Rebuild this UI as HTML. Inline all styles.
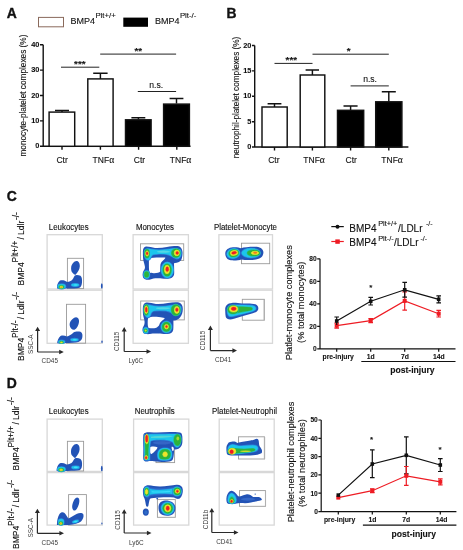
<!DOCTYPE html>
<html><head><meta charset="utf-8">
<style>
html,body{margin:0;padding:0;background:#fff;}
svg{display:block;will-change:transform;filter:blur(0.3px);}
text{font-family:"Liberation Sans",sans-serif;fill:#111;stroke:#111;stroke-width:0.12px;}
.b{stroke-width:0.1px;}
.b{font-weight:bold;}
.db{fill:#2453b6}
.cy{fill:#1ec6ec;stroke:#2a80da;stroke-width:1.3;paint-order:stroke}
.lc{fill:#3fe0ff}
.gr{fill:#2db33a;stroke:#22c0a0;stroke-width:1.1;paint-order:stroke}
.ye{fill:#eee42a;stroke:#a8d43a;stroke-width:1;paint-order:stroke}
.rd{fill:#ee1c22;stroke:#f47a20;stroke-width:0.9;paint-order:stroke}
.or{fill:#f07a1e}
.ax text{fill:#3a3a3a;stroke:none;}
.gate{fill:none;stroke:#9a9a9a;stroke-width:0.9}

</style></head>
<body>
<svg width="463" height="550" viewBox="0 0 463 550">
<defs>
<filter id="sf" x="-20%" y="-20%" width="140%" height="140%"><feGaussianBlur stdDeviation="0.45"/></filter>

<clipPath id="cL1"><rect x="47.8" y="235.4" width="53.8" height="53"/></clipPath>
<clipPath id="cL2"><rect x="47.8" y="290.9" width="53.8" height="51.7"/></clipPath>
</defs>

<!-- ================= PANEL A ================= -->
<text x="6.7" y="17.9" class="b" font-size="13.9" style="stroke-width:0.35px">A</text>
<rect x="38.5" y="17.4" width="25" height="9.4" fill="#fff" stroke="#8a6a5c" stroke-width="1"/>
<text x="70.6" y="24.1" font-size="9">BMP4<tspan font-size="7.8" dy="-5.7" dx="0.3">Plt+/+</tspan></text>
<rect x="123.3" y="17.6" width="24.7" height="9.2" fill="#000"/>
<text x="155.1" y="24.1" font-size="9">BMP4<tspan font-size="7.8" dy="-5.7" dx="0.3">Plt-/-</tspan></text>

<!-- axes A -->
<g stroke="#111" stroke-width="1.4" fill="none">
<path d="M43.2,44.7 V146.3 M40,44.7 H43.2 M40,70.1 H43.2 M40,95.5 H43.2 M40,120.9 H43.2 M40,146.3 H190.5"/>
<path d="M62,146.3 V149.8 M100.4,146.3 V149.8 M138.6,146.3 V149.8 M176.8,146.3 V149.8"/>
</g>
<g class="b" font-size="8" text-anchor="end">
<text x="39.4" y="46.7" class="b" textLength="8.23" lengthAdjust="spacingAndGlyphs">40</text>
<text x="39.4" y="72.1" class="b" textLength="8.23" lengthAdjust="spacingAndGlyphs">30</text>
<text x="39.4" y="97.5" class="b" textLength="8.23" lengthAdjust="spacingAndGlyphs">20</text>
<text x="39.4" y="122.9" class="b" textLength="8.23" lengthAdjust="spacingAndGlyphs">10</text>
<text x="39.4" y="148.3" class="b" textLength="4.11" lengthAdjust="spacingAndGlyphs">0</text>
</g>
<text transform="translate(26.2,95.6) rotate(-90)" text-anchor="middle" font-size="8.25">monocyte-platelet complexes (%)</text>
<!-- bars A -->
<g stroke="#111" stroke-width="1.45">
<path d="M62,112.1 V110.5 M55,110.5 H69" fill="none"/>
<rect x="49.1" y="112.1" width="25.6" height="34.2" fill="#fff"/>
<path d="M100.4,78.9 V73.2 M93.2,73.2 H107.6" fill="none"/>
<rect x="87.8" y="78.9" width="25.3" height="67.4" fill="#fff"/>
<path d="M138.4,119.3 V117.7 M131.4,117.7 H145.3" fill="none"/>
<rect x="125.5" y="119.8" width="25.6" height="26.5" fill="#000"/>
<path d="M176.5,103.6 V98.4 M169.6,98.4 H183.4" fill="none"/>
<rect x="163.6" y="104.1" width="25.8" height="42.2" fill="#000"/>
</g>
<g stroke="#222" stroke-width="1">
<path d="M61,67.2 H99.3 M100.2,54.1 H176.1 M137.8,91.5 H176.1"/>
</g>
<text x="79.8" y="67.2" text-anchor="middle" font-size="9.8" class="b">***</text>
<text x="138.2" y="54" text-anchor="middle" font-size="9.8" class="b">**</text>
<text x="156.2" y="87.7" text-anchor="middle" font-size="8.6">n.s.</text>
<g font-size="8.5">
<text x="56.4" y="162.5">Ctr</text>
<text x="92.6" y="162.5">TNF<tspan font-family="Liberation Serif" font-size="9.6">α</tspan></text>
<text x="133.8" y="162.5">Ctr</text>
<text x="169.8" y="162.5">TNF<tspan font-family="Liberation Serif" font-size="9.6">α</tspan></text>
</g>

<!-- ================= PANEL B ================= -->
<text x="226.4" y="17.9" class="b" font-size="13.9" style="stroke-width:0.35px">B</text>
<g stroke="#111" stroke-width="1.4" fill="none">
<path d="M254.7,45.5 V147 M252,45.5 H254.7 M252,70.9 H254.7 M252,96.3 H254.7 M252,121.7 H254.7 M252,147 H408.4"/>
<path d="M274.5,147 V150.5 M312.4,147 V150.5 M350.6,147 V150.5 M388.8,147 V150.5"/>
</g>
<g font-size="8" text-anchor="end">
<text x="251.4" y="47.5" class="b" textLength="8.23" lengthAdjust="spacingAndGlyphs">20</text>
<text x="251.4" y="72.9" class="b" textLength="8.23" lengthAdjust="spacingAndGlyphs">15</text>
<text x="251.4" y="98.3" class="b" textLength="8.23" lengthAdjust="spacingAndGlyphs">10</text>
<text x="251.4" y="123.7" class="b" textLength="4.11" lengthAdjust="spacingAndGlyphs">5</text>
<text x="251.4" y="149.0" class="b" textLength="4.11" lengthAdjust="spacingAndGlyphs">0</text>
</g>
<text transform="translate(239.2,97.5) rotate(-90)" text-anchor="middle" font-size="8.2">neutrophil-platelet complexes (%)</text>
<g stroke="#111" stroke-width="1.45">
<path d="M274.5,107 V103.8 M267.6,103.8 H281.4" fill="none"/>
<rect x="262" y="107" width="25.2" height="40" fill="#fff"/>
<path d="M312.4,75 V70 M305.6,70 H319" fill="none"/>
<rect x="300.2" y="75" width="24.6" height="72" fill="#fff"/>
<path d="M350.6,110.3 V106 M343.5,106 H357.6" fill="none"/>
<rect x="337.5" y="110.3" width="26.2" height="36.7" fill="#000"/>
<path d="M388.8,101.8 V91.7 M381.8,91.7 H395.8" fill="none"/>
<rect x="375.7" y="101.8" width="26.2" height="45.2" fill="#000"/>
</g>
<g stroke="#222" stroke-width="1">
<path d="M274.5,63.4 H312.5 M312.5,54.2 H388.8 M350.6,85.9 H388.8"/>
</g>
<text x="291.3" y="63.2" text-anchor="middle" font-size="9.8" class="b">***</text>
<text x="348.6" y="54.2" text-anchor="middle" font-size="9.8" class="b">*</text>
<text x="370.1" y="82" text-anchor="middle" font-size="8.6">n.s.</text>
<g font-size="8.5">
<text x="268.2" y="162.5">Ctr</text>
<text x="303.3" y="162.5">TNF<tspan font-family="Liberation Serif" font-size="9.6">α</tspan></text>
<text x="345.6" y="162.5">Ctr</text>
<text x="381.3" y="162.5">TNF<tspan font-family="Liberation Serif" font-size="9.6">α</tspan></text>
</g>


<!-- ================= PANEL C ================= -->
<text x="6.7" y="200.8" class="b" font-size="13.9" style="stroke-width:0.35px">C</text>
<g transform="rotate(-90)" font-size="8.5">
<text x="-285.4" y="23.7">BMP4</text><text x="-262.4" y="18.2" font-size="8.3">Plt+/+</text><text x="-239.4" y="23.6">/</text><text x="-234.9" y="23.6">Ldlr</text><text x="-220" y="19" font-size="8.3">-/-</text>
<text x="-361" y="23.7">BMP4</text><text x="-338" y="18.2" font-size="8.3">Plt-/-</text><text x="-319.2" y="23.6">/</text><text x="-314.7" y="23.6">Ldlr</text><text x="-299.8" y="19" font-size="8.3">-/-</text>
</g>
<g font-size="7.9">
<text x="48.8" y="230.3" font-size="8.45" textLength="39.9" lengthAdjust="spacingAndGlyphs">Leukocytes</text>
<text x="135.9" y="230.3" font-size="8.45" textLength="38.1" lengthAdjust="spacingAndGlyphs">Monocytes</text>
<text x="213.9" y="230.3" font-size="8.45" textLength="63.1" lengthAdjust="spacingAndGlyphs">Platelet-Monocyte</text>
</g>
<g fill="none" stroke="#d8d8d8" stroke-width="1.3">
<rect x="47.1" y="234.7" width="55.2" height="54.3"/><rect x="47.1" y="290.2" width="55.2" height="53.1"/>
<rect x="133.1" y="234.7" width="55.3" height="54.3"/><rect x="133.1" y="290.2" width="55.3" height="53.1"/>
<rect x="218.9" y="234.7" width="53.6" height="54.3"/><rect x="218.9" y="290.2" width="53.6" height="53.1"/>
</g>
<rect class="gate" x="67.4" y="258.3" width="16.2" height="30.3"/>
<rect class="gate" x="66.5" y="304.3" width="19.1" height="38.9"/>
<rect class="gate" x="140.5" y="243.8" width="43.2" height="16.6"/>
<rect class="gate" x="140.7" y="301" width="43.6" height="18.9"/>
<rect class="gate" x="241.5" y="243.2" width="28.2" height="20.5"/>
<rect class="gate" x="242.3" y="299.3" width="22" height="20.9"/>
<path d="M264.3,299.5 V320.2" stroke="#b0b0b0" stroke-width="1.3"/>

<!-- Leukocytes C blobs -->
<g filter="url(#sf)">
<path class="db" d="M76.5,261 C78.8,261 80,263.5 79.8,266.5 C79.6,269.5 77.8,272 75.6,274.7 C74.6,275.2 73.8,274 72.5,272.8 C71.2,271.5 70.9,269 71.2,267 C71.6,264.5 74,261 76.5,261 Z"/>
<path class="db" d="M57,288.6 C57,285.5 57.8,282 60,280.6 C62,279.8 64.5,280.2 66.2,281.6 C67.5,282.4 69.5,281.8 71.5,280.6 C73,279.5 73.8,277 74.8,275.5 C76,274.5 78.5,274.8 80.5,275.8 C82,277 82.2,280 82,282.5 C81.8,285 81,287 79.5,287.8 C77,288.6 72,288.6 68,288.6 Z"/>
<ellipse class="cy" cx="61.6" cy="286.4" rx="4" ry="2.4"/>
<ellipse class="gr" cx="61.4" cy="286.9" rx="2.6" ry="1.5"/>
<ellipse class="ye" cx="61.3" cy="287.1" rx="1.5" ry="0.9"/>
<ellipse class="or" cx="61.2" cy="287.2" rx="0.7" ry="0.5"/>
<ellipse class="cy" cx="75.2" cy="285" rx="3.8" ry="1.4"/>
<ellipse class="lc" cx="75.6" cy="285" rx="2" ry="0.8"/>
<ellipse class="db" cx="101.8" cy="286" rx="0.9" ry="2.8"/>
</g>
<g filter="url(#sf)">
<path class="db" d="M76.2,317.2 C78.3,317.2 79.3,319.5 79,322 C78.7,325 77,328.5 74.5,329.7 C72.5,330.3 70,328 69.6,325 C69.3,322 71.5,319.5 73.5,318.2 C74.3,317.6 75.3,317.2 76.2,317.2 Z"/>
<path class="db" d="M57.2,343.2 C57.4,340.5 58.5,337.5 60.5,336 C62.5,335.3 65,335.6 66.8,336.5 C69,336 71.5,334.5 73.5,332.5 C75,331.5 78,331.2 80.5,331.8 C82.5,332.8 82.8,335.5 82.2,338 C81.5,340.5 79.5,342 76,342.6 C72,343.2 66,343.2 62,343.2 Z"/>
<ellipse class="cy" cx="61.6" cy="341.8" rx="3.2" ry="1.6"/>
<ellipse class="gr" cx="61.5" cy="342.3" rx="2" ry="1"/>
<ellipse class="ye" cx="61.4" cy="342.5" rx="1.1" ry="0.6"/>
<ellipse class="cy" cx="74.5" cy="339.8" rx="3.8" ry="1.3"/>
<ellipse class="lc" cx="74.8" cy="339.8" rx="2" ry="0.7"/>
<ellipse class="db" cx="102" cy="341.8" rx="0.7" ry="1.3"/>
</g>

<!-- Monocytes C -->
<g id="mono1" filter="url(#sf)">
<path class="db" d="M142.9,252 C142.8,249 144,246.8 146,246.6 C149,246.5 152,247.5 155,247.9 C159,248.2 163,247.6 167,247 C171,246.4 175,245.8 178,246.1 C181,246.7 182.3,249.2 182.5,252 C182.7,255 182.1,258.5 180.8,260.6 C179.6,262.2 177.2,263 175,263 L174,263.2 C174,266 174.3,270 174.2,273.3 C174,276.5 172.4,278.4 168,278.7 C164,278.9 161,278.4 158.5,278.3 C155,278.2 152.5,278.6 150.3,279.4 C148,280.2 144.2,279.8 143.1,277.5 C142.3,275 142.5,272.4 143.6,270.8 C144.6,269.5 145.2,268.2 144.9,266.5 C144.5,264 143.3,261.2 143.1,258.5 C142.9,256 142.9,254 142.9,252 Z"/>
<path fill="#fff" d="M149,258.3 C152,257.6 158,257.3 165.3,257.6 C165.5,258.5 164,259.8 162.5,261 C161,262.3 160.4,264 160.3,266 L160.2,271.5 C159.5,272.8 157,273.2 154,273.2 C151.5,273.2 150,273 149.4,272.3 C148.9,270 148.9,266 148.9,262 C148.9,260 148.9,259 149,258.3 Z"/>
<path class="cy" d="M144.4,252 C144.5,249.5 146.3,248.4 149,248.8 C152,249.3 155,250 159,250 C163,250 167,249.3 171,248.8 C175,248.3 179,248.5 180.6,250.3 C181.6,252.3 181.3,255.3 179.8,257.4 C178.5,258.8 176,259 174,257.8 C172,256.3 170,254.8 166,254.2 C162,253.8 157,253.9 153.5,254.5 C151.5,255.2 151,257 150.5,258.5 C150,259.6 148.6,260.2 147.2,260 C145.6,259.4 144.7,257 144.5,255 Z"/>
<ellipse fill="#52d8e4" cx="163.5" cy="251.7" rx="6.5" ry="1.1"/>
<ellipse class="gr" cx="147" cy="253.6" rx="2.5" ry="4.4"/>
<ellipse class="ye" cx="147.1" cy="253.5" rx="1.5" ry="2.6"/>
<ellipse class="rd" cx="147.1" cy="253.4" rx="0.9" ry="1.4"/>
<ellipse class="gr" cx="175.9" cy="253.1" rx="4.5" ry="4.4"/>
<ellipse class="ye" cx="176.8" cy="252.9" rx="2.6" ry="2.8"/>
<ellipse class="rd" cx="177.2" cy="253" rx="1.3" ry="1.4"/>
<ellipse class="cy" cx="167.3" cy="270" rx="6.1" ry="7.9"/>
<ellipse class="gr" cx="167.1" cy="270" rx="4.3" ry="6.3"/>
<ellipse class="ye" cx="167" cy="269.5" rx="2.6" ry="4.2"/>
<ellipse class="rd" cx="167.2" cy="269.2" rx="1.4" ry="2.4"/>
<ellipse class="cy" cx="146.6" cy="274.6" rx="3" ry="3.9"/>
<ellipse class="gr" cx="146.6" cy="274.4" rx="2.3" ry="2.9"/>
</g>
<g filter="url(#sf)">
<path class="db" d="M142.8,308.5 C142.7,305 144.2,302.8 146.5,302.5 C149.5,302.3 152.5,303.5 156,304 C160,304.4 164,303.7 168,303 C172,302.4 176,302 179,302.6 C181.8,303.4 182.8,306 182.8,309 C182.8,312.5 181.8,315.5 180,317.6 C178.5,319.5 176.5,320.4 174.5,320.4 L173.4,320.6 C173.4,323 173.6,327 173.2,330 C172.6,332.8 170.5,334 167,334.1 C163.5,334.2 161,333.8 158.5,333.6 C155,333.5 152,333.6 149.8,334 C147.5,334.4 144.2,334 143,332 C142.2,330 142.5,327.6 143.4,326.4 C144.2,325.2 144.6,324 144.6,322 C144.5,319.5 143.5,317.5 143.1,315 C142.8,312.5 142.8,310.5 142.8,308.5 Z"/>
<path fill="#fff" d="M148.2,318.2 C150,316.9 153,316.5 156.5,316.8 C159.5,317.1 162,317.5 164.6,318 C164.8,318.8 163.5,319.8 162,320.8 C160.5,322 159.8,323.2 159.4,324.6 C158.8,326.2 157.5,327.5 155.5,328 C153.5,328.4 151,328.3 148.6,327.9 C147.8,326.5 147.7,324.5 147.7,322.5 C147.7,320.5 147.8,319.2 148.2,318.2 Z"/>
<path class="cy" d="M144.3,308.5 C144.4,305.8 146.3,304.6 149,305 C152,305.6 155,306.5 159,306.5 C163,306.5 167,305.9 171,305.4 C175,304.9 179,304.9 180.6,306.5 C181.6,308 181.3,311.5 179.8,313.8 C178.5,315.4 176,315.6 174,314.3 C172,312.8 170,311.4 166,310.8 C162,310.4 157,310.5 153.5,310.9 C151.5,311.5 150.8,313.5 150.3,315.5 C149.7,316.7 148.5,317.5 147.2,317.3 C145.6,316.8 144.6,314 144.4,311.5 Z"/>
<ellipse fill="#52d8e4" cx="163" cy="308.3" rx="7" ry="1"/>
<ellipse class="gr" cx="146.3" cy="309.9" rx="2.4" ry="5.4"/>
<ellipse class="ye" cx="146.3" cy="309.8" rx="1.6" ry="3.8"/>
<ellipse class="rd" cx="146.3" cy="309.7" rx="1" ry="2.6"/>
<ellipse class="gr" cx="175.8" cy="310" rx="4.6" ry="5.6"/>
<ellipse class="ye" cx="176.8" cy="309.9" rx="2.4" ry="3.5"/>
<ellipse class="rd" cx="176.9" cy="309.7" rx="1.3" ry="1.8"/>
<ellipse class="cy" cx="166.4" cy="327" rx="5.4" ry="5.8"/>
<ellipse class="gr" cx="166.4" cy="326.9" rx="4.3" ry="4.8"/>
<ellipse class="ye" cx="166.5" cy="326.7" rx="2" ry="2.3"/>
<ellipse class="rd" cx="166.5" cy="326.6" rx="1" ry="1.1"/>
<ellipse class="cy" cx="145.8" cy="330.4" rx="2.4" ry="2.9"/>
<ellipse class="gr" cx="145.7" cy="330.5" rx="1.6" ry="1.8"/>
<ellipse class="ye" cx="145.7" cy="330.6" rx="0.7" ry="0.7"/>
</g>

<!-- Platelet-Monocyte C -->
<g filter="url(#sf)">
<path class="db" d="M225.3,253 C225.5,249.8 228.5,247.6 233,247.2 C236.5,246.9 239.5,247.6 241,248.2 C244,247.3 250,246.7 255,246.8 C259.5,246.9 263,248.5 263.4,252 C263.6,255.5 261.5,258.5 256,259.4 C251,260.2 245,260 241.5,259.4 C239,260.2 235,260.6 231,260.3 C227,260 225.1,256.5 225.3,253 Z"/>
<ellipse class="cy" cx="251" cy="253" rx="9.4" ry="4.7"/>
<ellipse class="cy" cx="233.4" cy="253.5" rx="6.6" ry="4.9" transform="rotate(-10 233.4 253.5)"/>
<ellipse class="gr" cx="233.8" cy="253.2" rx="5.1" ry="3.7" transform="rotate(-10 233.8 253.2)"/>
<ellipse class="gr" cx="253.6" cy="253" rx="6.5" ry="3.1"/>
<ellipse class="ye" cx="234.1" cy="252.9" rx="3.7" ry="2.4" transform="rotate(-10 234.1 252.9)"/>
<ellipse class="ye" cx="255" cy="252.9" rx="3.7" ry="1.6"/>
<ellipse class="rd" cx="234.1" cy="252.8" rx="2.5" ry="1.3" transform="rotate(-10 234.1 252.8)"/>
<ellipse class="or" cx="255.2" cy="252.8" rx="2" ry="1"/>
</g>
<g filter="url(#sf)">
<path class="db" d="M225.2,310 C225,306 227,303.2 232,302.9 C236,302.7 239,303.4 242,303.6 C247,303.4 252,303.3 255.5,304.2 C258,305 258.6,307.5 258.2,309.5 C257.6,311.5 255.5,312.5 252,313.5 C246,315 240,317 234,318.8 C230,319.9 226.5,319.5 225.8,317 C225.3,315 225.3,312 225.2,310 Z"/>
<path class="cy" d="M227.3,310 C227.5,306.5 230,305 234,305 C240,305 247,305 252,305.5 C255.5,306 256.5,308 255.3,309.8 C253.5,311.5 248,312.5 242,314 C237,315.3 232,316.8 229.5,316.3 C227.8,315.5 227.2,312.5 227.3,310 Z"/>
<path class="gr" d="M229,309.5 C229.3,307.3 231.5,306.4 235,306.5 C240,306.8 246,306.8 250.5,307.3 C253,307.8 253,309.5 251,310.3 C247,311.3 241,312 236,313 C232.5,313.8 229.3,313 229,311.5 Z"/>
<ellipse class="gr" cx="233" cy="309.6" rx="5.4" ry="4.4"/>
<ellipse class="ye" cx="233.6" cy="309" rx="4.1" ry="3"/>
<ellipse class="rd" cx="233.7" cy="308.8" rx="2.5" ry="1.7"/>
</g>

<!-- arrows C -->
<g stroke="#2a2a2a" stroke-width="1.2" fill="none">
<path d="M37.6,352 V330 M37.6,352 H60.5"/>
<path d="M124.2,351.5 V330.3 M124.2,351.5 H147.8"/>
<path d="M210.4,350.6 V328.8 M210.4,350.6 H233.7"/>
</g>
<g fill="#2a2a2a">
<path d="M35.1,331.1 L37.6,326.8 L40.1,331.1 Z M59.2,349.7 L63.8,352.0 L59.2,354.3 Z"/>
<path d="M121.7,331.4 L124.2,327.1 L126.7,331.4 Z M146.5,349.2 L151.1,351.5 L146.5,353.8 Z"/>
<path d="M207.9,329.9 L210.4,325.6 L212.9,329.9 Z M232.4,348.3 L237.0,350.6 L232.4,352.9 Z"/>
</g>
<g font-size="6.4" class="ax">
<text transform="translate(33,344.2) rotate(-90)" text-anchor="middle">SSC-A</text>
<text x="41.6" y="362.8">CD45</text>
<text transform="translate(118.7,341.3) rotate(-90)" text-anchor="middle">CD115</text>
<text x="128.5" y="362.6">Ly6C</text>
<text transform="translate(204.6,340.5) rotate(-90)" text-anchor="middle">CD115</text>
<text x="214.9" y="362">CD41</text>
</g>


<!-- Legend C -->
<path d="M331.3,226.6 H343.8" stroke="#111" stroke-width="1.2"/>
<circle cx="337.5" cy="226.7" r="2" fill="#111"/>
<path d="M331.3,241.5 H343.8" stroke="#ee1c24" stroke-width="1.2"/>
<rect x="335.3" y="239.4" width="4.5" height="4.4" fill="#ee1c24"/>
<text x="349.3" y="231.7" font-size="10">BMP4<tspan font-size="7.4" dy="-5.6" dx="1.6">Plt+/+</tspan><tspan dy="5.6" dx="0.6">/LDLr</tspan><tspan font-size="7" dy="-5.6" dx="3.4">-/-</tspan></text>
<text x="349.3" y="246.4" font-size="10">BMP4<tspan font-size="7.4" dy="-5.2" dx="1.6">Plt-/-</tspan><tspan dy="5.2" dx="0.3">/LDLr</tspan><tspan font-size="7" dy="-5.6" dx="2">-/-</tspan></text>

<!-- Line chart C -->
<g stroke="#111" stroke-width="1.2" fill="none">
<path d="M320,258.8 V348.8 M317.2,258.8 H320 M317.2,281.3 H320 M317.2,303.8 H320 M317.2,326.3 H320 M317.2,348.8 H455.5"/>
<path d="M336.7,348.8 V351.8 M370.7,348.8 V351.8 M404.7,348.8 V351.8 M438.7,348.8 V351.8"/>
<path d="M361.3,361.5 H455.5"/>
</g>
<g font-size="7.2" text-anchor="end" class="b">
<text x="316.6" y="261.2" class="b" textLength="7.34" lengthAdjust="spacingAndGlyphs">80</text>
<text x="316.6" y="283.7" class="b" textLength="7.34" lengthAdjust="spacingAndGlyphs">60</text>
<text x="316.6" y="306.2" class="b" textLength="7.34" lengthAdjust="spacingAndGlyphs">40</text>
<text x="316.6" y="328.7" class="b" textLength="7.34" lengthAdjust="spacingAndGlyphs">20</text>
<text x="316.6" y="351.2" class="b" textLength="3.67" lengthAdjust="spacingAndGlyphs">0</text>
</g>
<g font-size="6.8" class="b" text-anchor="middle">
<text x="338.2" y="359" class="b">pre-injury</text>
<text x="370.7" y="359" class="b">1d</text>
<text x="404.9" y="359" class="b">7d</text>
<text x="438.9" y="359" class="b">14d</text>
</g>
<text x="412.4" y="373" font-size="8.6" class="b" text-anchor="middle">post-injury</text>
<text transform="translate(292.3,302.7) rotate(-90)" text-anchor="middle" font-size="9.2">Platlet-monocyte complexes</text>
<text transform="translate(303.7,302.3) rotate(-90)" text-anchor="middle" font-size="9.2">(% total monocytes)</text>
<!-- data C -->
<g stroke="#ee1c24" stroke-width="1.2" fill="none">
<path d="M336.7,325.7 L370.7,320.6 L404.7,300.9 L438.7,313.7"/>
<path d="M336.7,323.2 V328.2 M334.4,323.2 H339.0 M334.4,328.2 H339.0"/>
<path d="M370.7,318.6 V322.6 M368.4,318.6 H373.0 M368.4,322.6 H373.0"/>
<path d="M404.7,291.8 V310.1 M402.4,291.8 H407.0 M402.4,310.1 H407.0"/>
<path d="M438.7,310.3 V317 M436.4,310.3 H441.0 M436.4,317 H441.0"/>
</g>
<g fill="#ee1c24">
<rect x="334.7" y="323.7" width="4" height="4"/>
<rect x="368.7" y="318.6" width="4" height="4"/>
<rect x="402.7" y="298.9" width="4" height="4"/>
<rect x="436.7" y="311.7" width="4" height="4"/>
</g>
<g stroke="#111" stroke-width="1.2" fill="none">
<path d="M336.7,321 L370.7,301.3 L404.7,289.8 L438.7,299.3"/>
<path d="M336.7,317 V325 M334.4,317 H339.0"/>
<path d="M370.7,297.3 V305 M368.4,297.3 H373.0 M368.4,305 H373.0"/>
<path d="M404.7,282.4 V297.2 M402.4,282.4 H407.0 M402.4,297.2 H407.0"/>
<path d="M438.7,295.8 V302.8 M436.4,295.8 H441.0 M436.4,302.8 H441.0"/>
</g>
<g fill="#111">
<rect x="334.9" y="319.2" width="3.6" height="3.6"/>
<rect x="368.9" y="299.5" width="3.6" height="3.6"/>
<rect x="402.9" y="288" width="3.6" height="3.6"/>
<rect x="436.9" y="297.5" width="3.6" height="3.6"/>
</g>
<text x="370.8" y="289.6" font-size="8" class="b" text-anchor="middle">*</text>


<!-- ================= PANEL D ================= -->
<text x="6.8" y="387.6" class="b" font-size="13.9" style="stroke-width:0.35px">D</text>
<g transform="rotate(-90)" font-size="8.5">
<text x="-470.5" y="19.1">BMP4</text><text x="-447.5" y="13.6" font-size="8.3">Plt+/+</text><text x="-424.5" y="19">/</text><text x="-420" y="19">Ldlr</text><text x="-405.1" y="14.4" font-size="8.3">-/-</text>
<text x="-549" y="19.1">BMP4</text><text x="-526" y="13.6" font-size="8.3">Plt-/-</text><text x="-507.2" y="19">/</text><text x="-502.7" y="19">Ldlr</text><text x="-487.8" y="14.4" font-size="8.3">-/-</text>
</g>
<g font-size="7.9">
<text x="48.8" y="414.3" font-size="8.45" textLength="39.9" lengthAdjust="spacingAndGlyphs">Leukocytes</text>
<text x="134.7" y="414.3" font-size="8.45" textLength="39.9" lengthAdjust="spacingAndGlyphs">Neutrophils</text>
<text x="212" y="414.3" font-size="8.45" textLength="64.9" lengthAdjust="spacingAndGlyphs">Platelet-Neutrophil</text>
</g>
<g fill="none" stroke="#d8d8d8" stroke-width="1.3">
<rect x="47.1" y="419.1" width="55.2" height="52.3"/><rect x="47.1" y="472.6" width="55.2" height="52.5"/>
<rect x="133.6" y="419.1" width="55.2" height="52.3"/><rect x="133.6" y="472.6" width="55.2" height="52.5"/>
<rect x="219.2" y="419.1" width="55" height="52.3"/><rect x="219.2" y="472.6" width="55" height="52.5"/>
</g>
<rect class="gate" x="67.4" y="441.3" width="16.2" height="29.7"/>
<rect class="gate" x="68.6" y="494.6" width="17.8" height="30.5"/>
<rect class="gate" x="156" y="446.8" width="18.6" height="15.8"/>
<rect class="gate" x="157.4" y="499.6" width="17.9" height="17.7"/>
<rect class="gate" x="238.5" y="436.8" width="26" height="22.2"/>
<path d="M264.5,437 V459.2" stroke="#b0b0b0" stroke-width="1.3"/>
<rect class="gate" x="239.5" y="490.6" width="26" height="15.7"/>
<path d="M265.5,490.8 V506.3" stroke="#b0b0b0" stroke-width="1.1"/>

<!-- Leukocytes D -->
<g filter="url(#sf)">
<path class="db" d="M76.3,444.1 C78.6,444.1 79.8,446.5 79.6,449.5 C79.4,452.5 77.6,455 75.5,457.8 C74.5,458.2 73.6,457 72.3,455.8 C71,454.5 70.8,452 71.1,450 C71.5,447.5 73.8,444.1 76.3,444.1 Z"/>
<path class="db" d="M56.6,470.9 C56.6,468 57.5,465 59.5,463.4 C61.5,462.6 64,462.9 66,464.2 C67.5,464.8 69.5,464.2 71.5,463 C73,462 73.5,459.8 74.8,458.6 C76,457.8 78.5,458 80.5,459 C82,460.2 82.2,463 82,465.5 C81.8,468 81,469.6 79.5,470.3 C77,470.9 72,470.9 68,470.9 Z"/>
<ellipse class="cy" cx="61.4" cy="469.2" rx="4" ry="2.4"/>
<ellipse class="gr" cx="61.2" cy="469.7" rx="2.6" ry="1.5"/>
<ellipse class="ye" cx="61.1" cy="469.9" rx="1.5" ry="0.9"/>
<ellipse class="or" cx="61" cy="470.1" rx="0.6" ry="0.4"/>
<ellipse class="cy" cx="75.5" cy="467.4" rx="3.8" ry="1.4"/>
<ellipse class="lc" cx="75.8" cy="467.4" rx="2" ry="0.8"/>
<ellipse class="db" cx="101.8" cy="468.5" rx="0.9" ry="2.8"/>
</g>
<g filter="url(#sf)">
<path class="db" d="M77.3,497.5 C79,497.6 79.6,499.5 79.3,502 C79,505 77.5,508.5 75.5,510.3 C74,511.2 72.5,510 72.2,507.5 C72,504.5 73.5,500 75.5,498.2 C76,497.8 76.7,497.5 77.3,497.5 Z"/>
<path class="db" d="M56.9,525 C56.9,521 57.8,516.5 59.5,514 C60.8,512.2 63,511.8 64.5,513 C66,514.5 67.2,517 68.5,518.5 C71,517.5 74,515.3 77,513.8 C79.5,512.6 82.5,512.8 83.4,514.5 C84,516.5 83,519.5 81,521.5 C78.5,523.5 74,524.5 69,524.9 C65,525 60,525 56.9,525 Z"/>
<ellipse class="cy" cx="61.1" cy="522" rx="2.9" ry="3.2"/>
<ellipse class="gr" cx="60.9" cy="523.3" rx="2" ry="1.7"/>
<ellipse class="ye" cx="60.8" cy="523.5" rx="1.1" ry="0.9"/>
<ellipse class="or" cx="60.8" cy="523.6" rx="0.6" ry="0.5"/>
<ellipse class="cy" cx="75.5" cy="521.5" rx="3.2" ry="1.2" transform="rotate(-15 75.5 521.5)"/>
<ellipse class="lc" cx="75.7" cy="521.5" rx="1.6" ry="0.7"/>
<ellipse class="db" cx="101.9" cy="523.5" rx="0.6" ry="1"/>
</g>

<!-- Neutrophils D top -->
<g filter="url(#sf)">
<path class="db" d="M143.5,434.3 C144.5,432.5 147,432.1 150,432.3 C157,432.7 163,432.4 170,432.1 C175,432 179.5,432.2 181.2,433 C182.4,434.5 182.6,438 182.4,442 C182.2,445 181,447.5 178.5,448.8 C176.5,449.6 175,449.5 174.2,449.2 L174,452 C173.8,455 173.5,458 172.5,460 C171,461.5 168,461.9 164.5,461.9 C160.5,461.9 157,461.5 154,461.2 C151,461 149,461.1 147.5,461.5 C145.5,461.8 143.8,461.2 143.3,459 C143,456 143.5,452 143.4,448 C143.3,443 143,437 143.5,434.3 Z"/>
<path class="cy" d="M144.7,436 C146,434.4 150,434.1 155,434.2 C162,434.4 170,434.1 176,434.1 C179.8,434.1 181,435.5 180.9,438.8 C180.7,442 180.3,446 178,447 C175.5,447.8 174.2,445.5 173.2,442.5 C171,440.5 166,439.8 160,439.8 C155,439.8 152,440.1 150.5,441 C150,443 149.9,446 149.8,449 L149.6,460 L144.6,460 C144.3,455 144.2,448 144.3,442 C144.3,439 144.2,437 144.5,435.5 Z"/>
<path fill="#62dcd0" d="M151,436.8 C158,435.6 166,435.6 173,436 C171,437.8 160,438.2 151,438 Z" opacity="0.75"/>
<ellipse fill="#3466c6" cx="162" cy="442.8" rx="9" ry="1.8"/>
<path fill="#fff" d="M150.4,447 C152.5,446.3 155.5,446.4 157.4,447.3 C157.6,448.3 156.6,449.5 155.5,450.6 C154.2,452 153,453.3 151.5,453.9 C150.6,454 150.2,453 150.2,451.5 C150.2,449.5 150.2,447.8 150.4,447 Z"/>
<path fill="#fff" d="M171.6,446.8 C172.8,446.6 173.7,447.2 173.8,448.6 C173.9,450 173.5,451 172.8,451.3 C172.2,450.6 171.8,449.2 171.6,448 Z"/>
<path class="gr" d="M145.1,436.5 C145.5,434.8 148,434.8 148.6,436.5 C149,440 148.8,445 148.3,449 C148,452 148.4,455.5 148.2,458 C147.8,459.5 145.9,459.5 145.4,458 C145.1,455.5 145.4,452 145.3,448 C145.1,444 144.9,439.5 145.1,436.5 Z"/>
<ellipse class="ye" cx="146.7" cy="439" rx="1.7" ry="4.8"/>
<ellipse class="rd" cx="146.7" cy="438.7" rx="1.1" ry="3.6"/>
<ellipse class="ye" cx="146.2" cy="457.5" rx="1.4" ry="2"/>
<ellipse class="rd" cx="146.1" cy="457.7" rx="0.9" ry="1.3"/>
<ellipse class="gr" cx="177.4" cy="440" rx="3.6" ry="5.8"/>
<ellipse fill="#a8d830" cx="177.8" cy="438.6" rx="1.4" ry="2"/>
<path class="cy" d="M157.6,455 C157.6,451 159.7,448.4 164,448.1 C168.5,447.9 171.4,449.6 171.8,453 C172.2,456.5 171.3,459.4 168,460 C164,460.6 160.2,460.3 158.5,458.9 C157.8,457.9 157.6,456.5 157.6,455 Z"/>
<path class="gr" d="M159.2,455 C159.3,451.6 161,449.4 164.5,449.2 C168,449.1 170.2,450.6 170.5,453.4 C170.7,456.4 169.8,458.6 167.3,459 C164.5,459.4 161.3,459.3 160,458.2 C159.4,457.3 159.2,456.2 159.2,455 Z"/>
<ellipse class="ye" cx="165.1" cy="454.3" rx="2.3" ry="2.5"/>
</g>

<!-- Neutrophils D bottom -->
<g filter="url(#sf)">
<path class="db" d="M142.9,491 C143,487.5 145,485.2 148.5,485.3 C152,485.5 155,486.5 160,486.6 C166,486.6 172,485.3 176.5,484.8 C180,484.6 182.4,486 182.8,489.5 C183.1,493 182,496.5 179.8,498.5 C178,499.5 176,498.8 174,497.6 C170,497.2 165,497.2 160,497.5 C155,497.7 151.5,498 150,498.8 C149,501 148.8,504 148.3,506 C147.8,507.2 146.5,507 146,505.5 C145.5,503.5 145.3,500.5 144.5,498.5 C143.3,496.5 142.9,494 142.9,491 Z"/>
<ellipse class="db" cx="145.8" cy="512.1" rx="3" ry="3.6"/>
<ellipse fill="#2f6cc8" cx="145.9" cy="512.4" rx="1.6" ry="2"/>
<circle class="db" cx="157.2" cy="498.6" r="0.9"/>
<path fill="#2a62c4" d="M144.6,491.5 C144.8,488.5 147,486.6 150,487.2 C155,488 160,488.3 166,487.8 C171,487.2 175,486.4 178,486.6 C180.8,487 181.6,490 181,493 C180.2,495.6 178,496.6 175.5,496 C171,495.3 166,495.2 160,495.4 C155,495.6 151.5,495.8 149.5,496.6 C148.5,497.5 148.2,498.5 147.5,498.5 C146.5,498 145.5,496 145,494.5 C144.7,493.5 144.5,492.5 144.6,491.5 Z"/>
<path class="cy" d="M145.3,491.5 C145.6,489 147.5,488.2 150,489 C154,490 160,490.3 166,489.6 C171,489 175,488 177.5,488.4 C180,489 180.5,491.3 179.6,493.3 C178.6,495 176.5,495 174.5,494.3 C170,493.4 165,493.3 160,493.6 C155,493.8 151.5,494 149.5,494.8 C148,495.8 146.3,495.4 145.7,494 C145.4,493.2 145.3,492.3 145.3,491.5 Z"/>
<path class="lc" d="M152,491.2 C157,491.7 163,491.6 169,490.8 C170.5,490.6 171,491.5 170,492 C165,492.5 158,492.6 153,492.5 C151.5,492.3 151.3,491.4 152,491.2 Z" opacity="0.8"/>
<ellipse class="cy" cx="146.8" cy="491.8" rx="2.8" ry="4.8"/>
<ellipse class="gr" cx="146.7" cy="491.8" rx="2.1" ry="3.8"/>
<ellipse class="ye" cx="146.6" cy="491.8" rx="1.3" ry="2.5"/>
<ellipse class="cy" cx="177" cy="491.4" rx="4.4" ry="4.6"/>
<ellipse class="gr" cx="177.2" cy="491.3" rx="3.5" ry="3.6"/>
<ellipse class="ye" cx="177.4" cy="491.2" rx="2.2" ry="2"/>
<ellipse class="rd" cx="177.4" cy="491.3" rx="1.1" ry="1.1"/>
<path class="db" d="M158.5,507.5 C158.6,503.5 161,500.8 165,500.5 C170,500.2 174.5,502.5 175.3,506.5 C176,510.5 174.3,514.5 170,515.5 C166,516.3 161.5,515.5 159.6,512.8 C158.8,511.3 158.4,509.5 158.5,507.5 Z"/>
<ellipse class="cy" cx="167.6" cy="508.3" rx="6.4" ry="6.4"/>
<ellipse class="gr" cx="167.7" cy="508.3" rx="5" ry="5.1"/>
<ellipse class="ye" cx="167.7" cy="508.3" rx="3.1" ry="3.5"/>
<ellipse class="rd" cx="167.7" cy="508.3" rx="1.6" ry="2.2"/>
</g>

<!-- Platelet-Neutrophil D top -->
<g filter="url(#sf)">
<path class="db" d="M228.7,442.4 C231,441.6 233,441.4 234.4,441.5 C236,441.8 236.8,442.8 237.6,442.9 C239,442.7 241,441.9 242.7,441.8 C245,441.6 247,441.2 249,440.8 C251,440.5 252,440.3 253.1,440.1 C254.5,439.8 255.5,438.8 256.7,438.7 C258,438.8 258.7,440 258.8,441.3 C259,443 259,444.5 259.3,445.5 C260,447 261.5,448.5 261.9,450.1 C262.2,451.6 262,452.8 261.4,453.3 C259,454.5 256,455.1 253.1,455.3 C249,455.6 246,455.6 242.7,455.6 C239,455.6 237,455.6 234.4,455.6 C232,455.6 230,455.4 228.2,455 C227,454.5 226.8,453.6 226.7,452.7 C226.4,451 226.3,449 226.4,447.6 C226.5,446 227,444.8 227.7,443.9 C228,443.3 228.3,442.8 228.7,442.4 Z"/>
<path class="cy" d="M227.8,450.3 C227.9,446.8 229.6,444.7 232.5,444.6 C235,444.6 236.8,445.8 238.5,446 C242,446 247,445.6 252,445.2 C255.5,445 257.6,446 257.9,448 C258.1,450 256.4,451.4 253,451.9 C247,452.6 240,453.5 234,454.1 C230,454.4 228,453 227.8,450.3 Z"/>
<path class="gr" d="M227.9,451.3 C228.4,448.6 231,447.6 234,448.2 C240,449.2 247,449 252.5,448.6 C255,448.5 255.7,449.7 254.5,450.7 C251,451.9 245,452.5 239,452.9 C234,453.3 230,454 228.7,453.3 C228.1,452.7 227.8,452 227.9,451.3 Z"/>
<ellipse class="ye" cx="232.2" cy="451.3" rx="3.6" ry="3"/>
<ellipse fill="#c8dc2c" cx="245.5" cy="451.3" rx="5.5" ry="0.8"/>
<ellipse class="rd" cx="231.6" cy="451.8" rx="1.8" ry="2"/>
</g>

<!-- Platelet-Neutrophil D bottom -->
<g filter="url(#sf)">
<path class="db" d="M231.8,490.7 C233.5,490.9 235.5,492.5 236.8,494.5 C237.8,496 238.2,496.6 239.6,496.4 C242,496 244.5,494.8 246.9,494.3 C249,494 251.5,495.5 253.1,496.9 C255,497.2 257.2,496.9 258.5,497 C260,497.3 261.4,498.2 261.9,499.3 C261.8,500.3 260.8,500.6 259.5,500.8 C257,501.2 254.5,501.8 251,502.6 C248,503.2 245,503.3 241,503 C239,502.9 237.5,503.2 236.5,503.6 C234,504.2 230,504.3 228,503.8 C226.5,503 226.3,500.5 226.4,498.5 C226.5,495.5 228,492.5 229.8,491.2 C230.5,490.8 231.2,490.6 231.8,490.7 Z"/>
<circle class="db" cx="255.2" cy="494.1" r="0.7"/>
<ellipse fill="#3468c8" cx="248" cy="499.2" rx="7" ry="1.5"/>
<path class="cy" d="M227.9,500 C228,496.5 229.4,493.6 231.6,493.3 C233.9,493.7 235.8,496.5 236.2,499.5 C236.5,502 235.3,503.4 232.5,503.6 C229.6,503.7 227.9,502.6 227.9,500 Z"/>
<path class="gr" d="M229.5,501 C229.6,499 230.5,497.2 231.7,496.9 C233,497.3 234.1,499 234.3,500.8 C234.4,502.3 233.5,503 232,503 C230.4,503 229.5,502.4 229.5,501 Z"/>
<ellipse class="ye" cx="231.7" cy="501.1" rx="1.5" ry="1.7"/>
<ellipse class="rd" cx="231.6" cy="501.3" rx="0.9" ry="1.2"/>
</g>

<!-- arrows D -->
<g stroke="#2a2a2a" stroke-width="1.2" fill="none">
<path d="M37.4,533.3 V512 M37.4,533.3 H60.7"/>
<path d="M124.2,533 V512.5 M124.2,533 H148.2"/>
<path d="M211.8,532.5 V511.2 M211.8,532.5 H235.2"/>
</g>
<g fill="#2a2a2a">
<path d="M34.9,513.1 L37.4,508.8 L39.9,513.1 Z M59.4,531.0 L64.0,533.3 L59.4,535.6 Z"/>
<path d="M121.7,513.5 L124.2,509.2 L126.7,513.5 Z M146.9,530.7 L151.5,533.0 L146.9,535.3 Z"/>
<path d="M209.3,512.3 L211.8,508.0 L214.3,512.3 Z M233.9,530.2 L238.5,532.5 L233.9,534.8 Z"/>
</g>
<g font-size="6.4" class="ax">
<text transform="translate(33,527.8) rotate(-90)" text-anchor="middle">SSC-A</text>
<text x="41.6" y="544.6">CD45</text>
<text transform="translate(119.7,520) rotate(-90)" text-anchor="middle">CD115</text>
<text x="128.9" y="544.6">Ly6C</text>
<text transform="translate(207.9,519.5) rotate(-90)" text-anchor="middle">CD11b</text>
<text x="216.2" y="543.7">CD41</text>
</g>

<!-- Line chart D -->
<g stroke="#111" stroke-width="1.2" fill="none">
<path d="M321.2,420 V511.6 M318.4,420 H321.2 M318.4,438.3 H321.2 M318.4,456.6 H321.2 M318.4,474.9 H321.2 M318.4,493.2 H321.2 M318.4,511.6 H456.4"/>
<path d="M338.3,511.6 V514.6 M372.3,511.6 V514.6 M406.3,511.6 V514.6 M440.3,511.6 V514.6"/>
<path d="M362.9,525.1 H456.4"/>
</g>
<g font-size="7.2" text-anchor="end">
<text x="317.8" y="422.4" class="b" textLength="7.34" lengthAdjust="spacingAndGlyphs">50</text>
<text x="317.8" y="440.7" class="b" textLength="7.34" lengthAdjust="spacingAndGlyphs">40</text>
<text x="317.8" y="459" class="b" textLength="7.34" lengthAdjust="spacingAndGlyphs">30</text>
<text x="317.8" y="477.3" class="b" textLength="7.34" lengthAdjust="spacingAndGlyphs">20</text>
<text x="317.8" y="495.6" class="b" textLength="7.34" lengthAdjust="spacingAndGlyphs">10</text>
<text x="317.8" y="514" class="b" textLength="3.67" lengthAdjust="spacingAndGlyphs">0</text>
</g>
<g font-size="6.8" text-anchor="middle">
<text x="339.6" y="521.8" class="b">pre-injury</text>
<text x="372.4" y="521.8" class="b">1d</text>
<text x="406.2" y="521.8" class="b">7d</text>
<text x="441.6" y="521.8" class="b">14d</text>
</g>
<text x="413.8" y="536.8" font-size="8.6" class="b" text-anchor="middle">post-injury</text>
<text transform="translate(294,462) rotate(-90)" text-anchor="middle" font-size="9.2">Platelet-neutrophil complexes</text>
<text transform="translate(305.2,463.2) rotate(-90)" text-anchor="middle" font-size="9.3">(% total neutrophiles)</text>
<path d="M406.3,436.8 V473.8 M404.0,436.8 H408.6 M404.0,473.8 H408.6" stroke="#111" stroke-width="1.2" fill="none"/>
<g stroke="#ee1c24" stroke-width="1.2" fill="none">
<path d="M338.3,497.6 L372.3,490.7 L406.3,475.8 L440.3,481.8"/>
<path d="M370.0,488.9 H374.6 M370.0,492.7 H374.6 M372.3,488.9 V492.7"/>
<path d="M406.3,466.5 V485.3 M404.0,466.5 H408.6 M404.0,485.3 H408.6"/>
<path d="M440.3,478.8 V484.8 M438.0,478.8 H442.6 M438.0,484.8 H442.6"/>
</g>
<g fill="#ee1c24">
<rect x="336.3" y="495.6" width="4" height="4"/>
<rect x="370.3" y="488.7" width="4" height="4"/>
<rect x="404.3" y="473.8" width="4" height="4"/>
<rect x="438.3" y="479.8" width="4" height="4"/>
</g>
<g stroke="#111" stroke-width="1.2" fill="none">
<path d="M338.3,495.1 L372.3,464 L406.3,455.3 L440.3,465"/>
<path d="M372.3,449.8 V477.6 M370.0,449.8 H374.6 M370.0,477.6 H374.6"/>
<path d="M440.3,458.7 V471.5 M438.0,458.7 H442.6 M438.0,471.5 H442.6"/>
</g>
<g fill="#111">
<rect x="336.5" y="493.3" width="3.6" height="3.6"/>
<rect x="370.5" y="462.2" width="3.6" height="3.6"/>
<rect x="404.5" y="453.5" width="3.6" height="3.6"/>
<rect x="438.5" y="463.2" width="3.6" height="3.6"/>
</g>
<text x="371.6" y="442" font-size="8" class="b" text-anchor="middle">*</text>
<text x="440.1" y="451.6" font-size="8" class="b" text-anchor="middle">*</text>

</svg>
</body></html>
